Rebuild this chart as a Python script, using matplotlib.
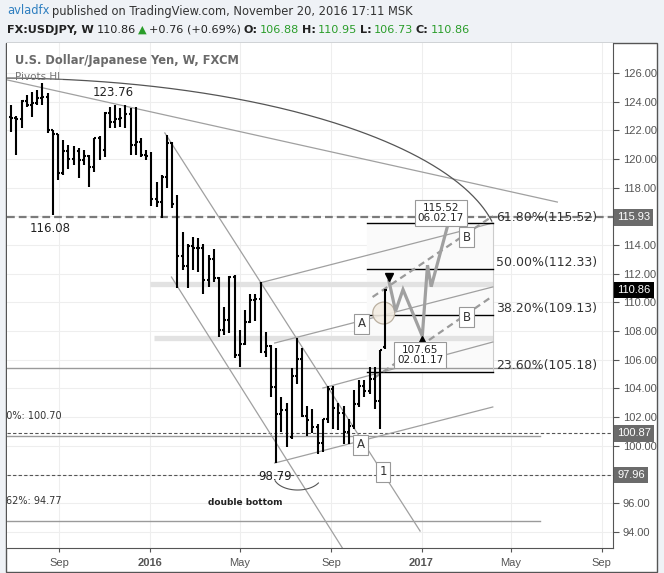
import numpy as np
import pandas as pd
import matplotlib
matplotlib.use('Agg')
import matplotlib.pyplot as plt
import matplotlib.dates as mdates
from matplotlib.patches import Rectangle, Ellipse

W, H = 664, 573

# weekly OHLC, FX:USDJPY
week_start = '2015-06-28'
opens = [122.90, 122.83, 122.80, 124.04, 123.80, 123.89, 124.23, 124.32, 122.00, 121.74,
         119.01, 120.59, 119.97, 120.56, 119.90, 120.23, 119.45, 121.44, 120.61, 123.18,
         122.61, 122.81, 122.85, 123.13, 120.95, 121.20, 120.28, 120.21, 117.24, 116.98,
         118.76, 121.13, 116.88, 113.25, 112.56, 113.97, 113.77, 113.78, 111.54, 113.00,
         111.70, 108.05, 108.76, 111.79, 106.32, 107.12, 108.61, 110.14, 110.26, 106.53,
         106.96, 104.13, 102.21, 102.53, 100.61, 104.86, 106.04, 102.06, 101.82, 101.29,
         100.23, 101.85, 103.97, 102.64, 102.30, 101.00, 101.35, 102.92, 104.18, 103.82,
         104.69, 103.11, 106.88]
highs = [123.77, 123.00, 124.12, 124.47, 124.70, 124.80, 125.28, 124.58, 122.05, 121.75,
         121.30, 121.00, 120.90, 120.80, 120.60, 120.30, 121.50, 121.60, 123.30, 123.60,
         123.77, 123.54, 123.76, 123.54, 123.66, 121.50, 120.60, 120.50, 118.40, 118.90,
         121.69, 121.20, 117.50, 114.90, 114.05, 114.58, 114.46, 114.10, 113.30, 113.76,
         111.79, 109.70, 111.85, 111.90, 108.07, 109.47, 110.60, 110.60, 111.45, 107.96,
         107.00, 106.80, 103.40, 103.00, 105.40, 107.50, 106.80, 102.80, 102.60, 101.50,
         101.90, 104.20, 104.20, 103.00, 102.80, 101.90, 103.90, 104.60, 104.60, 105.50,
         105.50, 106.70, 110.95]
lows = [121.91, 120.28, 122.14, 123.65, 122.95, 123.77, 123.77, 121.80, 116.08, 118.54,
        118.90, 119.30, 119.60, 118.70, 119.60, 118.07, 119.10, 119.90, 120.16, 122.14,
        122.14, 122.26, 122.14, 120.28, 120.28, 120.16, 119.90, 116.70, 116.68, 115.87,
        117.98, 116.60, 110.98, 112.26, 110.99, 112.26, 112.14, 110.60, 111.10, 111.43,
        107.60, 107.70, 107.84, 106.10, 105.50, 107.00, 108.60, 108.70, 106.45, 106.20,
        103.40, 98.79, 101.00, 99.90, 100.50, 104.30, 102.00, 100.70, 100.90, 99.40,
        99.60, 101.60, 101.20, 101.10, 100.10, 100.10, 101.20, 102.70, 103.40, 103.60,
        102.55, 101.20, 106.73]
closes = [122.83, 122.80, 124.04, 123.80, 123.89, 124.23, 124.32, 122.00, 121.74, 119.01,
          120.59, 119.97, 120.56, 119.90, 120.23, 119.45, 121.44, 120.61, 123.18, 122.61,
          122.81, 122.85, 123.13, 120.95, 121.20, 120.28, 120.21, 117.24, 116.98, 118.76,
          121.13, 116.88, 113.25, 112.56, 113.97, 113.77, 113.78, 111.54, 113.00, 111.70,
          108.05, 108.76, 111.79, 106.32, 107.12, 108.61, 110.14, 110.26, 106.53, 106.96,
          104.13, 102.21, 102.53, 100.61, 104.86, 106.04, 102.06, 101.82, 101.29, 100.23,
          101.85, 103.97, 102.64, 102.30, 101.00, 101.35, 102.92, 104.18, 103.82, 104.69,
          103.11, 106.66, 110.86]

# price axis
price_ticks = [94, 96, 98, 100, 102, 104, 106, 108, 110, 112, 114, 116, 118, 120, 122, 124, 126]
hidden_ticks = [98, 116]  # covered by the price marks
time_ticks = ['2015-09-01', '2016-01-01', '2016-05-01', '2016-09-01', '2017-01-01', '2017-05-01', '2017-09-01']
time_labels = ['Sep', '2016', 'May', 'Sep', '2017', 'May', 'Sep']
axis_marks = [(115.93, '#6b6b6b'), (110.86, '#000000'), (100.87, '#6b6b6b'), (97.96, '#6b6b6b')]

# fibonacci projection
fib_levels = [115.52, 112.33, 109.13, 105.18]
fib_names = ['61.80%(115.52)', '50.00%(112.33)', '38.20%(109.13)', '23.60%(105.18)']
fib_start, fib_end = '2016-10-20', '2017-04-07'

# projected path
proj_dates = ['2016-11-18', '2016-11-27', '2016-12-07', '2017-01-02', '2017-01-09', '2017-01-14', '2017-02-06']
proj_prices = [111.5, 109.4, 110.9, 107.65, 112.6, 111.1, 115.52]

# drawn trend lines: (date1, price1, date2, price2)
thin_lines = [('2015-06-23', 125.51, '2017-07-03', 117.00),
              ('2016-01-21', 121.82, '2016-12-30', 94.06),
              ('2016-01-30', 111.77, '2016-09-16', 92.90),
              ('2016-05-28', 111.36, '2017-04-07', 115.54),
              ('2016-06-17', 107.17, '2017-04-07', 111.08),
              ('2016-08-21', 104.03, '2017-04-07', 107.24),
              ('2016-06-17', 98.80, '2017-04-07', 102.71)]
dash_lines = [('2016-10-27', 110.38, '2017-04-07', 116.03),
              ('2016-10-29', 104.73, '2017-04-07', 110.45)]
levels_solid = [105.41, 100.70, 94.77]
levels_end = '2017-06-10'
bands = [('2016-01-01', 111.27), ('2016-01-06', 107.54)]


def d(s):
    return mdates.date2num(pd.Timestamp(s))


dates = mdates.date2num(pd.date_range(week_start, periods=len(closes), freq='7D'))

plt.rcParams['font.family'] = 'DejaVu Sans'
fig = plt.figure(figsize=(W / 100, H / 100), dpi=100, facecolor='#eff2f6')
fig.patches.append(Rectangle((6 / W, 1 - 572 / H), 651 / W, 529 / H, transform=fig.transFigure,
                             fc='white', ec='#555555', lw=1.0, zorder=-5))
ax = fig.add_axes([7 / W, 25 / H, 606 / W, 505 / H])
ax.set_xlim(d('2016-01-01') - 192.7, d('2016-01-01') + 624.0)
ax.set_ylim(92.876, 128.092)

# grid
for p in price_ticks:
    ax.axhline(p, color='#eeeeee', lw=0.8, zorder=0)
for t in time_ticks:
    ax.axvline(d(t), color='#eeeeee', lw=0.8, zorder=0)

# fib box background
ax.fill_between([d(fib_start), d(fib_end)], fib_levels[-1], fib_levels[0], color='#fafafa', zorder=0.5)

# bands and horizontal levels
for start, p in bands:
    ax.plot([d(start), d(fib_end)], [p, p], color='#e2e2e2', lw=3.8, solid_capstyle='butt', zorder=1)
for p in levels_solid:
    ax.plot([ax.get_xlim()[0], d(levels_end)], [p, p], color='#9a9a9a', lw=1.0, zorder=2)
ax.axhline(115.93, color='#7b7b7b', lw=1.6, ls=(0, (3.5, 1.8)), zorder=2)
ax.axhline(100.87, color='#555555', lw=0.8, ls=(0, (3, 2)), zorder=2)
ax.axhline(97.96, color='#555555', lw=0.8, ls=(0, (3, 2)), zorder=2)

ax.plot([d(fib_end), d(fib_end)], [fib_levels[-1], fib_levels[0]], color='#cccccc', lw=0.8, zorder=2)
for p, name in zip(fib_levels, fib_names):
    ax.plot([d(fib_start), d(fib_end)], [p, p], color='black', lw=1.0, zorder=3)
    ax.annotate(name, (d('2017-04-11'), p), xytext=(0, 4.5), textcoords='offset points',
                va='center', ha='left', fontsize=9, color='#333333', zorder=6)

# trend lines
for x1, y1, x2, y2 in thin_lines:
    ax.plot([d(x1), d(x2)], [y1, y2], color='#a0a0a0', lw=0.9, zorder=2)
for x1, y1, x2, y2 in dash_lines:
    ax.plot([d(x1), d(x2)], [y1, y2], color='#9a9a9a', lw=1.6, ls=(0, (3, 2)), zorder=3)

# big arc
t = np.radians(np.linspace(90, 10.5, 200))
ax.plot(d('2015-06-13') + 673.9 * np.cos(t), 113.45 + 12.2 * np.sin(t), color='#555555', lw=0.9, zorder=2)
# small arc under double bottom
t = np.radians(np.linspace(200, 330, 60))
ax.plot(d('2016-07-18') + 32.3 * np.cos(t), 97.90 + 0.98 * np.sin(t), color='#555555', lw=0.8, zorder=2)

# circle
ax.add_patch(Ellipse((d('2016-11-11'), 109.26), 29.6, 1.53, fc='#f3ece2', ec='#b3a898', lw=0.9, zorder=4, alpha=0.9))

# ohlc bars
tick = 2.6
ax.vlines(dates, lows, highs, color='black', lw=1.5, zorder=5)
ax.hlines(opens, dates - tick, dates, color='black', lw=1.5, zorder=5)
ax.hlines(closes, dates, dates + tick, color='black', lw=1.5, zorder=5)

# projection path
ax.plot([d(s) for s in proj_dates], proj_prices, color='#a0a0a0', lw=2.3, zorder=6, solid_joinstyle='miter')
ax.plot(d('2016-11-18'), 111.75, marker='v', color='black', ms=6, zorder=7)
ax.plot(d('2017-01-01'), 107.4, marker='^', color='black', ms=6, zorder=7)

box = dict(boxstyle='square,pad=0.25', fc='white', ec='#999999', lw=0.8)
ax.text(d('2017-01-27'), 116.24, '115.52\n06.02.17', ha='center', va='center', fontsize=7.5,
        color='#222222', linespacing=1.0, bbox=box, zorder=8)
ax.text(d('2016-12-30'), 106.33, '107.65\n02.01.17', ha='center', va='center', fontsize=7.5,
        color='#222222', linespacing=1.0, bbox=box, zorder=8)
box2 = dict(boxstyle='square,pad=0.3', fc='white', ec='#999999', lw=0.8)
for s, xd, yp in [('B', '2017-03-03', 114.56), ('B', '2017-03-03', 108.98), ('A', '2016-10-12', 108.50),
                  ('A', '2016-10-11', 100.06), ('1', '2016-11-10', 98.18)]:
    ax.text(d(xd), yp, s, ha='center', va='center', fontsize=8.5, color='#333333', bbox=box2, zorder=8)

# text labels
ax.text(d('2015-11-12'), 124.61, '123.76', ha='center', va='center', fontsize=8.5, color='#222222', zorder=8)
ax.text(d('2015-08-19'), 115.19, '116.08', ha='center', va='center', fontsize=8.5, color='#222222', zorder=8)
ax.text(d('2016-06-17'), 97.83, '98.79', ha='center', va='center', fontsize=8.5, color='#222222', zorder=8)
ax.text(d('2016-05-09'), 96.08, 'double bottom', ha='center', va='center', fontsize=6.5,
        fontweight='bold', color='#222222', zorder=8)
ax.text(d('2015-09-04'), 102.10, '50%: 100.70', ha='right', va='center', fontsize=7, color='#333333',
        clip_on=True, zorder=8)
ax.text(d('2015-09-04'), 96.15, '62%: 94.77', ha='right', va='center', fontsize=7, color='#333333',
        clip_on=True, zorder=8)
ax.text(0.013, 0.966, 'U.S. Dollar/Japanese Yen, W, FXCM', transform=ax.transAxes, ha='left', va='center',
        fontsize=8.3, fontweight='bold', color='#6a6a6a', zorder=8)
ax.text(0.013, 0.933, 'Pivots HL', transform=ax.transAxes, ha='left', va='center',
        fontsize=7.5, color='#777777', zorder=8)

# axes
for side in ['top', 'left']:
    ax.spines[side].set_visible(False)
for side in ['right', 'bottom']:
    ax.spines[side].set_color('#555555')
ax.yaxis.tick_right()
ax.set_yticks(price_ticks)
ax.set_yticklabels(['' if p in hidden_ticks else '%.2f' % p for p in price_ticks], fontfamily='Liberation Sans')
ax.set_xticks([d(s) for s in time_ticks])
ax.set_xticklabels(time_labels, fontfamily='Liberation Sans')
for lab in ax.get_xticklabels():
    if lab.get_text() in ('2016', '2017'):
        lab.set_fontweight('bold')
ax.tick_params(axis='y', labelsize=8, colors='#555555', length=4, pad=3)
ax.tick_params(axis='x', labelsize=8, colors='#555555', length=3, pad=4)

for p, c in axis_marks:
    ax.text(1.0 + 4 / 606, p, '%.2f' % p, transform=ax.get_yaxis_transform(), ha='left', va='center',
            fontsize=8, fontfamily='Liberation Sans', color='white', clip_on=False, zorder=10,
            bbox=dict(boxstyle='square,pad=0.3', fc=c, ec='none'))

# header
renderer = fig.canvas.get_renderer()


def chain(pieces, x, y, size):
    for s, kw in pieces:
        tx = fig.text(x / W, 1 - y / H, s, ha='left', va='center', fontsize=size, **kw)
        x = tx.get_window_extent(renderer).x1 + 2.5


green = '#2a9d2a'
chain([('avladfx', dict(color='#2f7fc0')),
       ('published on TradingView.com, November 20, 2016 17:11 MSK', dict(color='#333333'))], 7, 11, 8.3)
chain([('FX:USDJPY, W', dict(color='#222222', fontweight='bold')),
       ('110.86', dict(color='#222222')),
       ('\u25b2', dict(color=green)),
       ('+0.76 (+0.69%)', dict(color='#222222')),
       ('O:', dict(color='#222222', fontweight='bold')),
       ('106.88', dict(color=green)),
       ('H:', dict(color='#222222', fontweight='bold')),
       ('110.95', dict(color=green)),
       ('L:', dict(color='#222222', fontweight='bold')),
       ('106.73', dict(color=green)),
       ('C:', dict(color='#222222', fontweight='bold')),
       ('110.86', dict(color=green))], 7, 30, 8.1)

fig.savefig('out.png', dpi=100, facecolor=fig.get_facecolor())
